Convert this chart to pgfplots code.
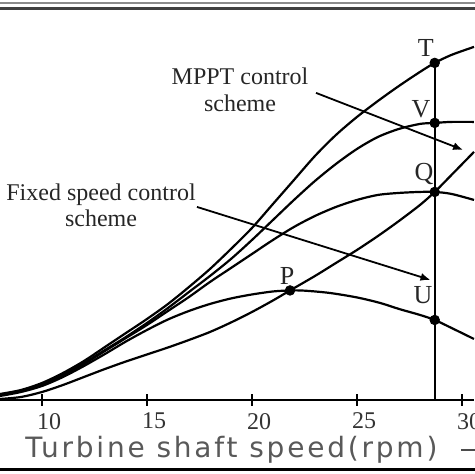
\documentclass[border=0pt]{standalone}
\usepackage{fontspec}
\setmainfont{Liberation Serif}
\newfontfamily\xlabfont[LetterSpace=10]{DejaVu Sans}
\usepackage{pgfplots}
\pgfplotsset{compat=1.18}
\usetikzlibrary{arrows.meta}

\begin{document}
\begin{tikzpicture}
\useasboundingbox (0,0) rectangle (237pt,237pt);
\begin{axis}[
  at={(0,0)}, anchor=south west,
  scale only axis, width=237pt, height=237pt,
  xmin=8, xmax=30.5714, ymin=-74, ymax=400,
  axis x line=middle, axis y line=none,
  axis line style={-, line width=1.1pt, black},
  xtick={10,15,20,25,30},
  ytick=\empty,
  tick align=center, major tick length=6pt,
  every tick/.style={black, line width=1pt},
  tick label style={font=\fontsize{12}{12}\selectfont, text=black!80, xshift=3.5pt},
  /pgf/number format/assume math mode=true,
  clip=false,
]
% curve T
\addplot[black, line width=1.1pt, smooth] coordinates {
 (8,6) (9,10) (10,17) (11,27) (12,39) (13,53) (14,67) (15,81) (16,96) (17,113)
 (18,131) (19,151) (20,172) (21,196) (22,220) (23,244) (24,265) (25,283)
 (26,299) (27,314) (28,328) (28.7,337) (29.5,345) (30.57,353)};
% curve V
\addplot[black, line width=1.1pt, smooth] coordinates {
 (8,5) (9,9) (10,15) (11,25) (12,37) (13,50) (14,63) (15,77) (16,92) (17,108)
 (18,124) (19,141) (20,160) (21,180) (22,200) (23,219) (24,236) (25,251)
 (26,263) (27,271) (28,276) (28.7,277) (29.5,278) (30.57,278)};
% curve Q
\addplot[black, line width=1.1pt, smooth] coordinates {
 (8,5) (9,9) (10,15) (11,25) (12,36) (13,49) (14,62) (15,75) (16,89) (17,103)
 (18,118) (19,132) (20,146) (21,160) (22,173) (23,184) (24,193) (25,200)
 (26,205) (27,207) (28,208) (28.7,208) (29.5,206) (30.57,200)};
% curve P-U
\addplot[black, line width=1.1pt, smooth] coordinates {
 (8,4) (9,8) (10,14) (11,23) (12,34) (13,46) (14,58.5) (15,70) (16,80.5) (17,89)
 (18,96) (19,101.5) (20,105.5) (21,108.5) (21.81,109.5) (22.5,109.3) (23.7,107)
 (25,102.5) (26.1,97) (27,91) (28,85) (28.7,80) (29.5,72) (30.57,61)};
% MPPT locus
\addplot[black, line width=1.1pt, smooth] coordinates {
 (8,1) (9,3) (10,8) (11,15) (12,23) (13,31) (14,38.5) (15,45.5) (16,52.5) (17,60)
 (18,68) (19,77.5) (20,88) (21,99.5) (21.81,109.5) (23,124) (24,137) (25,150)
 (26,164) (27,179) (28,195) (28.7,208) (29.5,225) (30.57,248)};
% fixed speed line
\addplot[black, line width=1.1pt] coordinates {(28.7,0) (28.7,337)};
% operating points
\addplot[only marks, mark=*, mark size=2.4pt, black] coordinates {
 (28.7,337) (28.7,277) (28.7,208) (21.81,109.5) (28.7,80)};

% point labels
\node[font=\fontsize{13}{13}\selectfont, text=black!85] at (axis cs:28.28,352) {T};
\node[font=\fontsize{13}{13}\selectfont, text=black!85] at (axis cs:28.05,291) {V};
\node[font=\fontsize{13}{13}\selectfont, text=black!85] at (axis cs:28.19,226) {Q};
\node[font=\fontsize{13}{13}\selectfont, text=black!85] at (axis cs:21.67,124) {P};
\node[font=\fontsize{13}{13}\selectfont, text=black!85] at (axis cs:28.14,105) {U};

% annotations
\node[anchor=base, inner sep=0, font=\fontsize{12}{12}\selectfont, text=black!85] at (axis cs:19.43,315) {MPPT control};
\node[anchor=base, inner sep=0, font=\fontsize{12}{12}\selectfont, text=black!85] at (axis cs:19.43,288) {scheme};
\draw[black, line width=0.9pt, -{Latex[length=5pt,width=4pt]}] (axis cs:23.05,307) -- (axis cs:30.05,250);

\node[anchor=base, inner sep=0, font=\fontsize{12}{12}\selectfont, text=black!85] at (axis cs:12.81,199) {Fixed speed control};
\node[anchor=base, inner sep=0, font=\fontsize{12}{12}\selectfont, text=black!85] at (axis cs:12.81,173) {scheme};
\draw[black, line width=0.9pt, -{Latex[length=5pt,width=4pt]}] (axis cs:17.38,193) -- (axis cs:28.5,120);

% x label
\node[anchor=base west, inner sep=0, font=\xlabfont\fontsize{14}{14}\selectfont, text=black!65] at (axis cs:9.19,-58) {Turbine shaft speed(rpm)};
\draw[black!70, line width=1.2pt] (axis cs:29.95,-50) -- (axis cs:30.6,-50);

% scan frame lines
\draw[black!45, line width=0.9pt] (axis cs:8,397) -- (axis cs:30.6,397);
\draw[black!75, line width=1.6pt] (axis cs:8,391) -- (axis cs:30.6,391);
\draw[black, line width=1.2pt] (axis cs:8,-69.5) -- (axis cs:30.6,-69.5);
\end{axis}
\end{tikzpicture}
\end{document}
